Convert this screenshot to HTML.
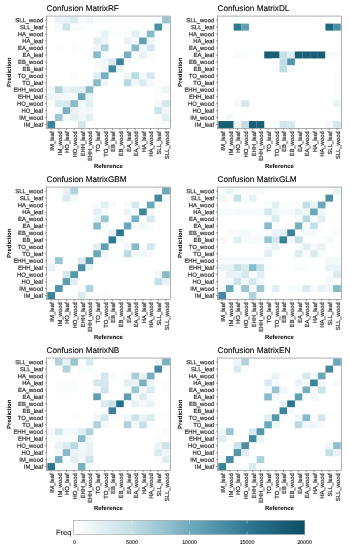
<!DOCTYPE html>
<html lang="en"><head><meta charset="utf-8"><title>Confusion matrices</title>
<style>
html,body{margin:0;padding:0;background:#fff}
svg{display:block}
text{font-family:"Liberation Sans",sans-serif;text-rendering:geometricPrecision}
.t{font-size:8.20px;fill:#000;stroke:#000;stroke-width:0.1px}
.a{font-size:5.90px;fill:#303030;stroke:#303030;stroke-width:0.2px}
.l{font-size:6.00px;font-weight:bold;fill:#000}
.tk{stroke:#333;stroke-width:0.5}
.k{font-size:5.3px;fill:#111;stroke:#111;stroke-width:0.1px}
</style></head><body>
<svg width="350" height="550" viewBox="0 0 350 550">
<rect width="350" height="550" fill="#fff"/>
<g>
<text class="t" x="46.5" y="11.1">Confusion MatrixRF</text>
<rect x="55.00" y="16.65" width="7.70" height="7.01" fill="#e9f3f6"/>
<rect x="62.65" y="16.65" width="7.70" height="7.01" fill="#e9f3f6"/>
<rect x="70.30" y="16.65" width="7.70" height="7.01" fill="#daebef"/>
<rect x="77.95" y="16.65" width="7.70" height="7.01" fill="#f8fbfc"/>
<rect x="85.60" y="16.65" width="7.70" height="7.01" fill="#f0f7f9"/>
<rect x="93.25" y="16.65" width="7.70" height="7.01" fill="#fcfdfe"/>
<rect x="100.90" y="16.65" width="7.70" height="7.01" fill="#fcfdfe"/>
<rect x="154.45" y="16.65" width="7.70" height="7.01" fill="#f8fbfc"/>
<rect x="162.10" y="16.65" width="7.70" height="7.01" fill="#9ac5d1"/>
<rect x="55.00" y="23.61" width="7.70" height="7.01" fill="#f8fbfc"/>
<rect x="62.65" y="23.61" width="7.70" height="7.01" fill="#cbe3e9"/>
<rect x="70.30" y="23.61" width="7.70" height="7.01" fill="#f9fcfc"/>
<rect x="77.95" y="23.61" width="7.70" height="7.01" fill="#f9fcfc"/>
<rect x="154.45" y="23.61" width="7.70" height="7.01" fill="#4c8fa5"/>
<rect x="162.10" y="23.61" width="7.70" height="7.01" fill="#fbfdfd"/>
<rect x="93.25" y="30.57" width="7.70" height="7.01" fill="#fbfdfd"/>
<rect x="100.90" y="30.57" width="7.70" height="7.01" fill="#e9f3f6"/>
<rect x="108.55" y="30.57" width="7.70" height="7.01" fill="#fbfdfd"/>
<rect x="116.20" y="30.57" width="7.70" height="7.01" fill="#fbfdfd"/>
<rect x="123.85" y="30.57" width="7.70" height="7.01" fill="#fbfdfd"/>
<rect x="131.50" y="30.57" width="7.70" height="7.01" fill="#e2eff2"/>
<rect x="139.15" y="30.57" width="7.70" height="7.01" fill="#f8fbfc"/>
<rect x="146.80" y="30.57" width="7.70" height="7.01" fill="#88bbc9"/>
<rect x="93.25" y="37.53" width="7.70" height="7.01" fill="#e2eff2"/>
<rect x="100.90" y="37.53" width="7.70" height="7.01" fill="#edf5f7"/>
<rect x="123.85" y="37.53" width="7.70" height="7.01" fill="#e9f3f6"/>
<rect x="131.50" y="37.53" width="7.70" height="7.01" fill="#f5f9fb"/>
<rect x="139.15" y="37.53" width="7.70" height="7.01" fill="#5f9fb2"/>
<rect x="146.80" y="37.53" width="7.70" height="7.01" fill="#f0f7f9"/>
<rect x="55.00" y="44.49" width="7.70" height="7.01" fill="#fcfdfe"/>
<rect x="70.30" y="44.49" width="7.70" height="7.01" fill="#fbfdfd"/>
<rect x="93.25" y="44.49" width="7.70" height="7.01" fill="#f0f7f9"/>
<rect x="100.90" y="44.49" width="7.70" height="7.01" fill="#afd2dc"/>
<rect x="123.85" y="44.49" width="7.70" height="7.01" fill="#f8fbfc"/>
<rect x="131.50" y="44.49" width="7.70" height="7.01" fill="#88bbc9"/>
<rect x="139.15" y="44.49" width="7.70" height="7.01" fill="#f0f7f9"/>
<rect x="146.80" y="44.49" width="7.70" height="7.01" fill="#d3e7ec"/>
<rect x="93.25" y="51.45" width="7.70" height="7.01" fill="#88bbc9"/>
<rect x="100.90" y="51.45" width="7.70" height="7.01" fill="#f8fbfc"/>
<rect x="123.85" y="51.45" width="7.70" height="7.01" fill="#77b1c1"/>
<rect x="131.50" y="51.45" width="7.70" height="7.01" fill="#f8fbfc"/>
<rect x="139.15" y="51.45" width="7.70" height="7.01" fill="#e9f3f6"/>
<rect x="146.80" y="51.45" width="7.70" height="7.01" fill="#f8fbfc"/>
<rect x="93.25" y="58.41" width="7.70" height="7.01" fill="#fcfdfe"/>
<rect x="100.90" y="58.41" width="7.70" height="7.01" fill="#f0f7f9"/>
<rect x="108.55" y="58.41" width="7.70" height="7.01" fill="#daebef"/>
<rect x="116.20" y="58.41" width="7.70" height="7.01" fill="#3c829a"/>
<rect x="123.85" y="58.41" width="7.70" height="7.01" fill="#fbfdfd"/>
<rect x="131.50" y="58.41" width="7.70" height="7.01" fill="#fbfdfd"/>
<rect x="93.25" y="65.37" width="7.70" height="7.01" fill="#fbfdfd"/>
<rect x="100.90" y="65.37" width="7.70" height="7.01" fill="#f5f9fb"/>
<rect x="108.55" y="65.37" width="7.70" height="7.01" fill="#44889f"/>
<rect x="116.20" y="65.37" width="7.70" height="7.01" fill="#e9f3f6"/>
<rect x="70.30" y="72.33" width="7.70" height="7.01" fill="#fbfdfd"/>
<rect x="93.25" y="72.33" width="7.70" height="7.01" fill="#e2eff2"/>
<rect x="100.90" y="72.33" width="7.70" height="7.01" fill="#77b1c1"/>
<rect x="123.85" y="72.33" width="7.70" height="7.01" fill="#edf5f7"/>
<rect x="131.50" y="72.33" width="7.70" height="7.01" fill="#bad9e1"/>
<rect x="139.15" y="72.33" width="7.70" height="7.01" fill="#f3f9fa"/>
<rect x="146.80" y="72.33" width="7.70" height="7.01" fill="#d3e7ec"/>
<rect x="93.25" y="79.29" width="7.70" height="7.01" fill="#88bbc9"/>
<rect x="100.90" y="79.29" width="7.70" height="7.01" fill="#f0f7f9"/>
<rect x="123.85" y="79.29" width="7.70" height="7.01" fill="#bad9e1"/>
<rect x="131.50" y="79.29" width="7.70" height="7.01" fill="#f0f7f9"/>
<rect x="139.15" y="79.29" width="7.70" height="7.01" fill="#daebef"/>
<rect x="146.80" y="79.29" width="7.70" height="7.01" fill="#f5f9fb"/>
<rect x="47.35" y="86.25" width="7.70" height="7.01" fill="#f5f9fb"/>
<rect x="55.00" y="86.25" width="7.70" height="7.01" fill="#afd2dc"/>
<rect x="62.65" y="86.25" width="7.70" height="7.01" fill="#e9f3f6"/>
<rect x="70.30" y="86.25" width="7.70" height="7.01" fill="#e2eff2"/>
<rect x="77.95" y="86.25" width="7.70" height="7.01" fill="#e2eff2"/>
<rect x="85.60" y="86.25" width="7.70" height="7.01" fill="#88bbc9"/>
<rect x="154.45" y="86.25" width="7.70" height="7.01" fill="#fbfdfd"/>
<rect x="162.10" y="86.25" width="7.70" height="7.01" fill="#edf5f7"/>
<rect x="47.35" y="93.21" width="7.70" height="7.01" fill="#edf5f7"/>
<rect x="55.00" y="93.21" width="7.70" height="7.01" fill="#f0f7f9"/>
<rect x="62.65" y="93.21" width="7.70" height="7.01" fill="#f5f9fb"/>
<rect x="70.30" y="93.21" width="7.70" height="7.01" fill="#f8fbfc"/>
<rect x="77.95" y="93.21" width="7.70" height="7.01" fill="#69a8b9"/>
<rect x="85.60" y="93.21" width="7.70" height="7.01" fill="#e9f3f6"/>
<rect x="154.45" y="93.21" width="7.70" height="7.01" fill="#fcfdfe"/>
<rect x="162.10" y="93.21" width="7.70" height="7.01" fill="#fcfdfe"/>
<rect x="47.35" y="100.17" width="7.70" height="7.01" fill="#fbfdfd"/>
<rect x="55.00" y="100.17" width="7.70" height="7.01" fill="#daebef"/>
<rect x="62.65" y="100.17" width="7.70" height="7.01" fill="#daebef"/>
<rect x="70.30" y="100.17" width="7.70" height="7.01" fill="#88bbc9"/>
<rect x="77.95" y="100.17" width="7.70" height="7.01" fill="#f8fbfc"/>
<rect x="85.60" y="100.17" width="7.70" height="7.01" fill="#e2eff2"/>
<rect x="154.45" y="100.17" width="7.70" height="7.01" fill="#f5f9fb"/>
<rect x="162.10" y="100.17" width="7.70" height="7.01" fill="#d3e7ec"/>
<rect x="55.00" y="107.13" width="7.70" height="7.01" fill="#f8fbfc"/>
<rect x="62.65" y="107.13" width="7.70" height="7.01" fill="#77b1c1"/>
<rect x="70.30" y="107.13" width="7.70" height="7.01" fill="#e9f3f6"/>
<rect x="77.95" y="107.13" width="7.70" height="7.01" fill="#f5f9fb"/>
<rect x="85.60" y="107.13" width="7.70" height="7.01" fill="#f0f7f9"/>
<rect x="154.45" y="107.13" width="7.70" height="7.01" fill="#cbe3e9"/>
<rect x="162.10" y="107.13" width="7.70" height="7.01" fill="#f0f7f9"/>
<rect x="47.35" y="114.09" width="7.70" height="7.01" fill="#f8fbfc"/>
<rect x="55.00" y="114.09" width="7.70" height="7.01" fill="#9ac5d1"/>
<rect x="62.65" y="114.09" width="7.70" height="7.01" fill="#f5f9fb"/>
<rect x="70.30" y="114.09" width="7.70" height="7.01" fill="#e2eff2"/>
<rect x="77.95" y="114.09" width="7.70" height="7.01" fill="#f0f7f9"/>
<rect x="85.60" y="114.09" width="7.70" height="7.01" fill="#e2eff2"/>
<rect x="154.45" y="114.09" width="7.70" height="7.01" fill="#f8fbfc"/>
<rect x="162.10" y="114.09" width="7.70" height="7.01" fill="#e2eff2"/>
<rect x="47.35" y="121.05" width="7.70" height="7.01" fill="#3c829a"/>
<rect x="77.95" y="121.05" width="7.70" height="7.01" fill="#d3e7ec"/>
<rect x="154.45" y="121.05" width="7.70" height="7.01" fill="#fbfdfd"/>
<rect x="162.10" y="121.05" width="7.70" height="7.01" fill="#fbfdfd"/>
<rect x="46.50" y="16.05" width="123.80" height="112.45" fill="none" stroke="#7a7a7a" stroke-width="0.6"/>
<line class="tk" x1="44.90" x2="46.50" y1="20.13" y2="20.13"/>
<text class="a" text-anchor="end" transform="translate(43.20 22.25) rotate(0.03)">SLL_wood</text>
<line class="tk" x1="44.90" x2="46.50" y1="27.09" y2="27.09"/>
<text class="a" text-anchor="end" transform="translate(43.20 29.21) rotate(0.03)">SLL_leaf</text>
<line class="tk" x1="44.90" x2="46.50" y1="34.05" y2="34.05"/>
<text class="a" text-anchor="end" transform="translate(43.20 36.17) rotate(0.03)">HA_wood</text>
<line class="tk" x1="44.90" x2="46.50" y1="41.01" y2="41.01"/>
<text class="a" text-anchor="end" transform="translate(43.20 43.13) rotate(0.03)">HA_leaf</text>
<line class="tk" x1="44.90" x2="46.50" y1="47.97" y2="47.97"/>
<text class="a" text-anchor="end" transform="translate(43.20 50.09) rotate(0.03)">EA_wood</text>
<line class="tk" x1="44.90" x2="46.50" y1="54.93" y2="54.93"/>
<text class="a" text-anchor="end" transform="translate(43.20 57.05) rotate(0.03)">EA_leaf</text>
<line class="tk" x1="44.90" x2="46.50" y1="61.89" y2="61.89"/>
<text class="a" text-anchor="end" transform="translate(43.20 64.01) rotate(0.03)">EB_wood</text>
<line class="tk" x1="44.90" x2="46.50" y1="68.85" y2="68.85"/>
<text class="a" text-anchor="end" transform="translate(43.20 70.97) rotate(0.03)">EB_leaf</text>
<line class="tk" x1="44.90" x2="46.50" y1="75.81" y2="75.81"/>
<text class="a" text-anchor="end" transform="translate(43.20 77.93) rotate(0.03)">TO_wood</text>
<line class="tk" x1="44.90" x2="46.50" y1="82.77" y2="82.77"/>
<text class="a" text-anchor="end" transform="translate(43.20 84.89) rotate(0.03)">TO_leaf</text>
<line class="tk" x1="44.90" x2="46.50" y1="89.73" y2="89.73"/>
<text class="a" text-anchor="end" transform="translate(43.20 91.85) rotate(0.03)">EHH_wood</text>
<line class="tk" x1="44.90" x2="46.50" y1="96.69" y2="96.69"/>
<text class="a" text-anchor="end" transform="translate(43.20 98.81) rotate(0.03)">EHH_leaf</text>
<line class="tk" x1="44.90" x2="46.50" y1="103.65" y2="103.65"/>
<text class="a" text-anchor="end" transform="translate(43.20 105.77) rotate(0.03)">HO_wood</text>
<line class="tk" x1="44.90" x2="46.50" y1="110.61" y2="110.61"/>
<text class="a" text-anchor="end" transform="translate(43.20 112.73) rotate(0.03)">HO_leaf</text>
<line class="tk" x1="44.90" x2="46.50" y1="117.57" y2="117.57"/>
<text class="a" text-anchor="end" transform="translate(43.20 119.69) rotate(0.03)">IM_wood</text>
<line class="tk" x1="44.90" x2="46.50" y1="124.53" y2="124.53"/>
<text class="a" text-anchor="end" transform="translate(43.20 126.65) rotate(0.03)">IM_leaf</text>
<line class="tk" x1="51.18" x2="51.18" y1="128.50" y2="130.10"/>
<text class="a" text-anchor="end" transform="translate(54.00 131.30) rotate(-90)">IM_leaf</text>
<line class="tk" x1="58.83" x2="58.83" y1="128.50" y2="130.10"/>
<text class="a" text-anchor="end" transform="translate(61.65 131.30) rotate(-90)">IM_wood</text>
<line class="tk" x1="66.47" x2="66.47" y1="128.50" y2="130.10"/>
<text class="a" text-anchor="end" transform="translate(69.30 131.30) rotate(-90)">HO_leaf</text>
<line class="tk" x1="74.12" x2="74.12" y1="128.50" y2="130.10"/>
<text class="a" text-anchor="end" transform="translate(76.95 131.30) rotate(-90)">HO_wood</text>
<line class="tk" x1="81.78" x2="81.78" y1="128.50" y2="130.10"/>
<text class="a" text-anchor="end" transform="translate(84.60 131.30) rotate(-90)">EHH_leaf</text>
<line class="tk" x1="89.43" x2="89.43" y1="128.50" y2="130.10"/>
<text class="a" text-anchor="end" transform="translate(92.25 131.30) rotate(-90)">EHH_wood</text>
<line class="tk" x1="97.08" x2="97.08" y1="128.50" y2="130.10"/>
<text class="a" text-anchor="end" transform="translate(99.90 131.30) rotate(-90)">TO_leaf</text>
<line class="tk" x1="104.72" x2="104.72" y1="128.50" y2="130.10"/>
<text class="a" text-anchor="end" transform="translate(107.55 131.30) rotate(-90)">TO_wood</text>
<line class="tk" x1="112.38" x2="112.38" y1="128.50" y2="130.10"/>
<text class="a" text-anchor="end" transform="translate(115.20 131.30) rotate(-90)">EB_leaf</text>
<line class="tk" x1="120.03" x2="120.03" y1="128.50" y2="130.10"/>
<text class="a" text-anchor="end" transform="translate(122.85 131.30) rotate(-90)">EB_wood</text>
<line class="tk" x1="127.68" x2="127.68" y1="128.50" y2="130.10"/>
<text class="a" text-anchor="end" transform="translate(130.50 131.30) rotate(-90)">EA_leaf</text>
<line class="tk" x1="135.33" x2="135.33" y1="128.50" y2="130.10"/>
<text class="a" text-anchor="end" transform="translate(138.15 131.30) rotate(-90)">EA_wood</text>
<line class="tk" x1="142.97" x2="142.97" y1="128.50" y2="130.10"/>
<text class="a" text-anchor="end" transform="translate(145.80 131.30) rotate(-90)">HA_leaf</text>
<line class="tk" x1="150.62" x2="150.62" y1="128.50" y2="130.10"/>
<text class="a" text-anchor="end" transform="translate(153.45 131.30) rotate(-90)">HA_wood</text>
<line class="tk" x1="158.28" x2="158.28" y1="128.50" y2="130.10"/>
<text class="a" text-anchor="end" transform="translate(161.10 131.30) rotate(-90)">SLL_leaf</text>
<line class="tk" x1="165.93" x2="165.93" y1="128.50" y2="130.10"/>
<text class="a" text-anchor="end" transform="translate(168.75 131.30) rotate(-90)">SLL_wood</text>
<text class="l" text-anchor="middle" transform="translate(10.70 72.28) rotate(-90)">Prediction</text>
<text class="l" text-anchor="middle" x="108.40" y="168.00">Reference</text>
</g>
<g>
<text class="t" x="217.5" y="11.1">Confusion MatrixDL</text>
<rect x="233.65" y="23.61" width="7.70" height="7.01" fill="#2d7891"/>
<rect x="241.30" y="23.61" width="7.70" height="7.01" fill="#5f9fb2"/>
<rect x="325.45" y="23.61" width="7.70" height="7.01" fill="#21677f"/>
<rect x="333.10" y="23.61" width="7.70" height="7.01" fill="#4c8fa5"/>
<rect x="233.65" y="51.45" width="7.70" height="7.01" fill="#f9fcfc"/>
<rect x="241.30" y="51.45" width="7.70" height="7.01" fill="#f9fcfc"/>
<rect x="264.25" y="51.45" width="7.70" height="7.01" fill="#1a5e76"/>
<rect x="271.90" y="51.45" width="7.70" height="7.01" fill="#1a5e76"/>
<rect x="279.55" y="51.45" width="7.70" height="7.01" fill="#c7e1e7"/>
<rect x="287.20" y="51.45" width="7.70" height="7.01" fill="#dfedf1"/>
<rect x="294.85" y="51.45" width="7.70" height="7.01" fill="#1a5e76"/>
<rect x="302.50" y="51.45" width="7.70" height="7.01" fill="#1a5e76"/>
<rect x="310.15" y="51.45" width="7.70" height="7.01" fill="#1a5e76"/>
<rect x="317.80" y="51.45" width="7.70" height="7.01" fill="#1a5e76"/>
<rect x="325.45" y="51.45" width="7.70" height="7.01" fill="#f8fbfc"/>
<rect x="333.10" y="51.45" width="7.70" height="7.01" fill="#f8fbfc"/>
<rect x="271.90" y="58.41" width="7.70" height="7.01" fill="#fbfdfd"/>
<rect x="279.55" y="58.41" width="7.70" height="7.01" fill="#c0dce4"/>
<rect x="287.20" y="58.41" width="7.70" height="7.01" fill="#5596ab"/>
<rect x="271.90" y="65.37" width="7.70" height="7.01" fill="#f8fbfc"/>
<rect x="279.55" y="65.37" width="7.70" height="7.01" fill="#c0dce4"/>
<rect x="287.20" y="65.37" width="7.70" height="7.01" fill="#f8fbfc"/>
<rect x="333.10" y="72.33" width="7.70" height="7.01" fill="#fcfdfe"/>
<rect x="333.10" y="79.29" width="7.70" height="7.01" fill="#fcfdfe"/>
<rect x="333.10" y="86.25" width="7.70" height="7.01" fill="#fcfdfe"/>
<rect x="333.10" y="93.21" width="7.70" height="7.01" fill="#fcfdfe"/>
<rect x="233.65" y="100.17" width="7.70" height="7.01" fill="#f5f9fb"/>
<rect x="241.30" y="100.17" width="7.70" height="7.01" fill="#d3e7ec"/>
<rect x="333.10" y="100.17" width="7.70" height="7.01" fill="#eaf4f6"/>
<rect x="241.30" y="107.13" width="7.70" height="7.01" fill="#fbfdfd"/>
<rect x="333.10" y="107.13" width="7.70" height="7.01" fill="#fbfdfd"/>
<rect x="226.00" y="114.09" width="7.70" height="7.01" fill="#f5f9fb"/>
<rect x="218.35" y="121.05" width="7.70" height="7.01" fill="#1a5e76"/>
<rect x="226.00" y="121.05" width="7.70" height="7.01" fill="#1a5e76"/>
<rect x="233.65" y="121.05" width="7.70" height="7.01" fill="#edf5f7"/>
<rect x="241.30" y="121.05" width="7.70" height="7.01" fill="#c4dfe6"/>
<rect x="248.95" y="121.05" width="7.70" height="7.01" fill="#1a5e76"/>
<rect x="256.60" y="121.05" width="7.70" height="7.01" fill="#1a5e76"/>
<rect x="271.90" y="121.05" width="7.70" height="7.01" fill="#f9fcfc"/>
<rect x="279.55" y="121.05" width="7.70" height="7.01" fill="#d3e7ec"/>
<rect x="287.20" y="121.05" width="7.70" height="7.01" fill="#daebef"/>
<rect x="325.45" y="121.05" width="7.70" height="7.01" fill="#f5f9fb"/>
<rect x="333.10" y="121.05" width="7.70" height="7.01" fill="#d6e9ed"/>
<rect x="217.50" y="16.05" width="123.80" height="112.45" fill="none" stroke="#7a7a7a" stroke-width="0.6"/>
<line class="tk" x1="215.90" x2="217.50" y1="20.13" y2="20.13"/>
<text class="a" text-anchor="end" transform="translate(214.20 22.25) rotate(0.03)">SLL_wood</text>
<line class="tk" x1="215.90" x2="217.50" y1="27.09" y2="27.09"/>
<text class="a" text-anchor="end" transform="translate(214.20 29.21) rotate(0.03)">SLL_leaf</text>
<line class="tk" x1="215.90" x2="217.50" y1="34.05" y2="34.05"/>
<text class="a" text-anchor="end" transform="translate(214.20 36.17) rotate(0.03)">HA_wood</text>
<line class="tk" x1="215.90" x2="217.50" y1="41.01" y2="41.01"/>
<text class="a" text-anchor="end" transform="translate(214.20 43.13) rotate(0.03)">HA_leaf</text>
<line class="tk" x1="215.90" x2="217.50" y1="47.97" y2="47.97"/>
<text class="a" text-anchor="end" transform="translate(214.20 50.09) rotate(0.03)">EA_wood</text>
<line class="tk" x1="215.90" x2="217.50" y1="54.93" y2="54.93"/>
<text class="a" text-anchor="end" transform="translate(214.20 57.05) rotate(0.03)">EA_leaf</text>
<line class="tk" x1="215.90" x2="217.50" y1="61.89" y2="61.89"/>
<text class="a" text-anchor="end" transform="translate(214.20 64.01) rotate(0.03)">EB_wood</text>
<line class="tk" x1="215.90" x2="217.50" y1="68.85" y2="68.85"/>
<text class="a" text-anchor="end" transform="translate(214.20 70.97) rotate(0.03)">EB_leaf</text>
<line class="tk" x1="215.90" x2="217.50" y1="75.81" y2="75.81"/>
<text class="a" text-anchor="end" transform="translate(214.20 77.93) rotate(0.03)">TO_wood</text>
<line class="tk" x1="215.90" x2="217.50" y1="82.77" y2="82.77"/>
<text class="a" text-anchor="end" transform="translate(214.20 84.89) rotate(0.03)">TO_leaf</text>
<line class="tk" x1="215.90" x2="217.50" y1="89.73" y2="89.73"/>
<text class="a" text-anchor="end" transform="translate(214.20 91.85) rotate(0.03)">EHH_wood</text>
<line class="tk" x1="215.90" x2="217.50" y1="96.69" y2="96.69"/>
<text class="a" text-anchor="end" transform="translate(214.20 98.81) rotate(0.03)">EHH_leaf</text>
<line class="tk" x1="215.90" x2="217.50" y1="103.65" y2="103.65"/>
<text class="a" text-anchor="end" transform="translate(214.20 105.77) rotate(0.03)">HO_wood</text>
<line class="tk" x1="215.90" x2="217.50" y1="110.61" y2="110.61"/>
<text class="a" text-anchor="end" transform="translate(214.20 112.73) rotate(0.03)">HO_leaf</text>
<line class="tk" x1="215.90" x2="217.50" y1="117.57" y2="117.57"/>
<text class="a" text-anchor="end" transform="translate(214.20 119.69) rotate(0.03)">IM_wood</text>
<line class="tk" x1="215.90" x2="217.50" y1="124.53" y2="124.53"/>
<text class="a" text-anchor="end" transform="translate(214.20 126.65) rotate(0.03)">IM_leaf</text>
<line class="tk" x1="222.17" x2="222.17" y1="128.50" y2="130.10"/>
<text class="a" text-anchor="end" transform="translate(225.00 131.30) rotate(-90)">IM_leaf</text>
<line class="tk" x1="229.82" x2="229.82" y1="128.50" y2="130.10"/>
<text class="a" text-anchor="end" transform="translate(232.65 131.30) rotate(-90)">IM_wood</text>
<line class="tk" x1="237.47" x2="237.47" y1="128.50" y2="130.10"/>
<text class="a" text-anchor="end" transform="translate(240.30 131.30) rotate(-90)">HO_leaf</text>
<line class="tk" x1="245.12" x2="245.12" y1="128.50" y2="130.10"/>
<text class="a" text-anchor="end" transform="translate(247.95 131.30) rotate(-90)">HO_wood</text>
<line class="tk" x1="252.78" x2="252.78" y1="128.50" y2="130.10"/>
<text class="a" text-anchor="end" transform="translate(255.60 131.30) rotate(-90)">EHH_leaf</text>
<line class="tk" x1="260.43" x2="260.43" y1="128.50" y2="130.10"/>
<text class="a" text-anchor="end" transform="translate(263.25 131.30) rotate(-90)">EHH_wood</text>
<line class="tk" x1="268.07" x2="268.07" y1="128.50" y2="130.10"/>
<text class="a" text-anchor="end" transform="translate(270.90 131.30) rotate(-90)">TO_leaf</text>
<line class="tk" x1="275.73" x2="275.73" y1="128.50" y2="130.10"/>
<text class="a" text-anchor="end" transform="translate(278.55 131.30) rotate(-90)">TO_wood</text>
<line class="tk" x1="283.38" x2="283.38" y1="128.50" y2="130.10"/>
<text class="a" text-anchor="end" transform="translate(286.20 131.30) rotate(-90)">EB_leaf</text>
<line class="tk" x1="291.02" x2="291.02" y1="128.50" y2="130.10"/>
<text class="a" text-anchor="end" transform="translate(293.85 131.30) rotate(-90)">EB_wood</text>
<line class="tk" x1="298.68" x2="298.68" y1="128.50" y2="130.10"/>
<text class="a" text-anchor="end" transform="translate(301.50 131.30) rotate(-90)">EA_leaf</text>
<line class="tk" x1="306.32" x2="306.32" y1="128.50" y2="130.10"/>
<text class="a" text-anchor="end" transform="translate(309.15 131.30) rotate(-90)">EA_wood</text>
<line class="tk" x1="313.98" x2="313.98" y1="128.50" y2="130.10"/>
<text class="a" text-anchor="end" transform="translate(316.80 131.30) rotate(-90)">HA_leaf</text>
<line class="tk" x1="321.62" x2="321.62" y1="128.50" y2="130.10"/>
<text class="a" text-anchor="end" transform="translate(324.45 131.30) rotate(-90)">HA_wood</text>
<line class="tk" x1="329.27" x2="329.27" y1="128.50" y2="130.10"/>
<text class="a" text-anchor="end" transform="translate(332.10 131.30) rotate(-90)">SLL_leaf</text>
<line class="tk" x1="336.93" x2="336.93" y1="128.50" y2="130.10"/>
<text class="a" text-anchor="end" transform="translate(339.75 131.30) rotate(-90)">SLL_wood</text>
<text class="l" text-anchor="middle" transform="translate(181.70 72.28) rotate(-90)">Prediction</text>
<text class="l" text-anchor="middle" x="279.40" y="168.00">Reference</text>
</g>
<g>
<text class="t" x="46.5" y="182.1">Confusion MatrixGBM</text>
<rect x="55.00" y="187.65" width="7.70" height="7.01" fill="#fcfdfe"/>
<rect x="62.65" y="187.65" width="7.70" height="7.01" fill="#e9f3f6"/>
<rect x="70.30" y="187.65" width="7.70" height="7.01" fill="#afd2dc"/>
<rect x="154.45" y="187.65" width="7.70" height="7.01" fill="#f8fbfc"/>
<rect x="162.10" y="187.65" width="7.70" height="7.01" fill="#69a8b9"/>
<rect x="55.00" y="194.61" width="7.70" height="7.01" fill="#fbfdfd"/>
<rect x="62.65" y="194.61" width="7.70" height="7.01" fill="#daebef"/>
<rect x="70.30" y="194.61" width="7.70" height="7.01" fill="#f5f9fb"/>
<rect x="154.45" y="194.61" width="7.70" height="7.01" fill="#44889f"/>
<rect x="162.10" y="194.61" width="7.70" height="7.01" fill="#fbfdfd"/>
<rect x="93.25" y="201.57" width="7.70" height="7.01" fill="#f8fbfc"/>
<rect x="100.90" y="201.57" width="7.70" height="7.01" fill="#e2eff2"/>
<rect x="108.55" y="201.57" width="7.70" height="7.01" fill="#f8fbfc"/>
<rect x="123.85" y="201.57" width="7.70" height="7.01" fill="#f8fbfc"/>
<rect x="131.50" y="201.57" width="7.70" height="7.01" fill="#d3e7ec"/>
<rect x="139.15" y="201.57" width="7.70" height="7.01" fill="#f9fcfc"/>
<rect x="146.80" y="201.57" width="7.70" height="7.01" fill="#69a8b9"/>
<rect x="93.25" y="208.53" width="7.70" height="7.01" fill="#e2eff2"/>
<rect x="100.90" y="208.53" width="7.70" height="7.01" fill="#f5f9fb"/>
<rect x="123.85" y="208.53" width="7.70" height="7.01" fill="#e9f3f6"/>
<rect x="131.50" y="208.53" width="7.70" height="7.01" fill="#f8fbfc"/>
<rect x="139.15" y="208.53" width="7.70" height="7.01" fill="#3c829a"/>
<rect x="146.80" y="208.53" width="7.70" height="7.01" fill="#f5f9fb"/>
<rect x="93.25" y="215.49" width="7.70" height="7.01" fill="#f0f7f9"/>
<rect x="100.90" y="215.49" width="7.70" height="7.01" fill="#9ac5d1"/>
<rect x="123.85" y="215.49" width="7.70" height="7.01" fill="#f8fbfc"/>
<rect x="131.50" y="215.49" width="7.70" height="7.01" fill="#77b1c1"/>
<rect x="139.15" y="215.49" width="7.70" height="7.01" fill="#f8fbfc"/>
<rect x="146.80" y="215.49" width="7.70" height="7.01" fill="#d3e7ec"/>
<rect x="93.25" y="222.45" width="7.70" height="7.01" fill="#88bbc9"/>
<rect x="100.90" y="222.45" width="7.70" height="7.01" fill="#f3f9fa"/>
<rect x="123.85" y="222.45" width="7.70" height="7.01" fill="#69a8b9"/>
<rect x="131.50" y="222.45" width="7.70" height="7.01" fill="#f8fbfc"/>
<rect x="139.15" y="222.45" width="7.70" height="7.01" fill="#f3f9fa"/>
<rect x="146.80" y="222.45" width="7.70" height="7.01" fill="#fbfdfd"/>
<rect x="100.90" y="229.41" width="7.70" height="7.01" fill="#fbfdfd"/>
<rect x="108.55" y="229.41" width="7.70" height="7.01" fill="#e9f3f6"/>
<rect x="116.20" y="229.41" width="7.70" height="7.01" fill="#2d7891"/>
<rect x="100.90" y="236.37" width="7.70" height="7.01" fill="#fcfdfe"/>
<rect x="108.55" y="236.37" width="7.70" height="7.01" fill="#2d7891"/>
<rect x="116.20" y="236.37" width="7.70" height="7.01" fill="#f0f7f9"/>
<rect x="93.25" y="243.33" width="7.70" height="7.01" fill="#e2eff2"/>
<rect x="100.90" y="243.33" width="7.70" height="7.01" fill="#5f9fb2"/>
<rect x="123.85" y="243.33" width="7.70" height="7.01" fill="#f0f7f9"/>
<rect x="131.50" y="243.33" width="7.70" height="7.01" fill="#88bbc9"/>
<rect x="139.15" y="243.33" width="7.70" height="7.01" fill="#fbfdfd"/>
<rect x="146.80" y="243.33" width="7.70" height="7.01" fill="#d3e7ec"/>
<rect x="93.25" y="250.29" width="7.70" height="7.01" fill="#69a8b9"/>
<rect x="100.90" y="250.29" width="7.70" height="7.01" fill="#f0f7f9"/>
<rect x="123.85" y="250.29" width="7.70" height="7.01" fill="#bad9e1"/>
<rect x="131.50" y="250.29" width="7.70" height="7.01" fill="#f5f9fb"/>
<rect x="139.15" y="250.29" width="7.70" height="7.01" fill="#f0f7f9"/>
<rect x="146.80" y="250.29" width="7.70" height="7.01" fill="#f8fbfc"/>
<rect x="47.35" y="257.25" width="7.70" height="7.01" fill="#f8fbfc"/>
<rect x="55.00" y="257.25" width="7.70" height="7.01" fill="#9ac5d1"/>
<rect x="77.95" y="257.25" width="7.70" height="7.01" fill="#daebef"/>
<rect x="85.60" y="257.25" width="7.70" height="7.01" fill="#5596ab"/>
<rect x="47.35" y="264.21" width="7.70" height="7.01" fill="#e9f3f6"/>
<rect x="55.00" y="264.21" width="7.70" height="7.01" fill="#fbfdfd"/>
<rect x="77.95" y="264.21" width="7.70" height="7.01" fill="#4c8fa5"/>
<rect x="85.60" y="264.21" width="7.70" height="7.01" fill="#e9f3f6"/>
<rect x="62.65" y="271.17" width="7.70" height="7.01" fill="#d3e7ec"/>
<rect x="70.30" y="271.17" width="7.70" height="7.01" fill="#5596ab"/>
<rect x="154.45" y="271.17" width="7.70" height="7.01" fill="#f0f7f9"/>
<rect x="162.10" y="271.17" width="7.70" height="7.01" fill="#88bbc9"/>
<rect x="62.65" y="278.13" width="7.70" height="7.01" fill="#5f9fb2"/>
<rect x="70.30" y="278.13" width="7.70" height="7.01" fill="#e2eff2"/>
<rect x="154.45" y="278.13" width="7.70" height="7.01" fill="#c4dfe6"/>
<rect x="162.10" y="278.13" width="7.70" height="7.01" fill="#e9f3f6"/>
<rect x="55.00" y="285.09" width="7.70" height="7.01" fill="#5596ab"/>
<rect x="77.95" y="285.09" width="7.70" height="7.01" fill="#fbfdfd"/>
<rect x="85.60" y="285.09" width="7.70" height="7.01" fill="#afd2dc"/>
<rect x="47.35" y="292.05" width="7.70" height="7.01" fill="#3c829a"/>
<rect x="55.00" y="292.05" width="7.70" height="7.01" fill="#fcfdfe"/>
<rect x="62.65" y="292.05" width="7.70" height="7.01" fill="#fcfdfe"/>
<rect x="70.30" y="292.05" width="7.70" height="7.01" fill="#fcfdfe"/>
<rect x="77.95" y="292.05" width="7.70" height="7.01" fill="#daebef"/>
<rect x="85.60" y="292.05" width="7.70" height="7.01" fill="#fcfdfe"/>
<rect x="93.25" y="292.05" width="7.70" height="7.01" fill="#fcfdfe"/>
<rect x="100.90" y="292.05" width="7.70" height="7.01" fill="#fcfdfe"/>
<rect x="46.50" y="187.05" width="123.80" height="112.45" fill="none" stroke="#7a7a7a" stroke-width="0.6"/>
<line class="tk" x1="44.90" x2="46.50" y1="191.13" y2="191.13"/>
<text class="a" text-anchor="end" transform="translate(43.20 193.25) rotate(0.03)">SLL_wood</text>
<line class="tk" x1="44.90" x2="46.50" y1="198.09" y2="198.09"/>
<text class="a" text-anchor="end" transform="translate(43.20 200.21) rotate(0.03)">SLL_leaf</text>
<line class="tk" x1="44.90" x2="46.50" y1="205.05" y2="205.05"/>
<text class="a" text-anchor="end" transform="translate(43.20 207.17) rotate(0.03)">HA_wood</text>
<line class="tk" x1="44.90" x2="46.50" y1="212.01" y2="212.01"/>
<text class="a" text-anchor="end" transform="translate(43.20 214.13) rotate(0.03)">HA_leaf</text>
<line class="tk" x1="44.90" x2="46.50" y1="218.97" y2="218.97"/>
<text class="a" text-anchor="end" transform="translate(43.20 221.09) rotate(0.03)">EA_wood</text>
<line class="tk" x1="44.90" x2="46.50" y1="225.93" y2="225.93"/>
<text class="a" text-anchor="end" transform="translate(43.20 228.05) rotate(0.03)">EA_leaf</text>
<line class="tk" x1="44.90" x2="46.50" y1="232.89" y2="232.89"/>
<text class="a" text-anchor="end" transform="translate(43.20 235.01) rotate(0.03)">EB_wood</text>
<line class="tk" x1="44.90" x2="46.50" y1="239.85" y2="239.85"/>
<text class="a" text-anchor="end" transform="translate(43.20 241.97) rotate(0.03)">EB_leaf</text>
<line class="tk" x1="44.90" x2="46.50" y1="246.81" y2="246.81"/>
<text class="a" text-anchor="end" transform="translate(43.20 248.93) rotate(0.03)">TO_wood</text>
<line class="tk" x1="44.90" x2="46.50" y1="253.77" y2="253.77"/>
<text class="a" text-anchor="end" transform="translate(43.20 255.89) rotate(0.03)">TO_leaf</text>
<line class="tk" x1="44.90" x2="46.50" y1="260.73" y2="260.73"/>
<text class="a" text-anchor="end" transform="translate(43.20 262.85) rotate(0.03)">EHH_wood</text>
<line class="tk" x1="44.90" x2="46.50" y1="267.69" y2="267.69"/>
<text class="a" text-anchor="end" transform="translate(43.20 269.81) rotate(0.03)">EHH_leaf</text>
<line class="tk" x1="44.90" x2="46.50" y1="274.65" y2="274.65"/>
<text class="a" text-anchor="end" transform="translate(43.20 276.77) rotate(0.03)">HO_wood</text>
<line class="tk" x1="44.90" x2="46.50" y1="281.61" y2="281.61"/>
<text class="a" text-anchor="end" transform="translate(43.20 283.73) rotate(0.03)">HO_leaf</text>
<line class="tk" x1="44.90" x2="46.50" y1="288.57" y2="288.57"/>
<text class="a" text-anchor="end" transform="translate(43.20 290.69) rotate(0.03)">IM_wood</text>
<line class="tk" x1="44.90" x2="46.50" y1="295.53" y2="295.53"/>
<text class="a" text-anchor="end" transform="translate(43.20 297.65) rotate(0.03)">IM_leaf</text>
<line class="tk" x1="51.18" x2="51.18" y1="299.50" y2="301.10"/>
<text class="a" text-anchor="end" transform="translate(54.00 302.30) rotate(-90)">IM_leaf</text>
<line class="tk" x1="58.83" x2="58.83" y1="299.50" y2="301.10"/>
<text class="a" text-anchor="end" transform="translate(61.65 302.30) rotate(-90)">IM_wood</text>
<line class="tk" x1="66.47" x2="66.47" y1="299.50" y2="301.10"/>
<text class="a" text-anchor="end" transform="translate(69.30 302.30) rotate(-90)">HO_leaf</text>
<line class="tk" x1="74.12" x2="74.12" y1="299.50" y2="301.10"/>
<text class="a" text-anchor="end" transform="translate(76.95 302.30) rotate(-90)">HO_wood</text>
<line class="tk" x1="81.78" x2="81.78" y1="299.50" y2="301.10"/>
<text class="a" text-anchor="end" transform="translate(84.60 302.30) rotate(-90)">EHH_leaf</text>
<line class="tk" x1="89.43" x2="89.43" y1="299.50" y2="301.10"/>
<text class="a" text-anchor="end" transform="translate(92.25 302.30) rotate(-90)">EHH_wood</text>
<line class="tk" x1="97.08" x2="97.08" y1="299.50" y2="301.10"/>
<text class="a" text-anchor="end" transform="translate(99.90 302.30) rotate(-90)">TO_leaf</text>
<line class="tk" x1="104.72" x2="104.72" y1="299.50" y2="301.10"/>
<text class="a" text-anchor="end" transform="translate(107.55 302.30) rotate(-90)">TO_wood</text>
<line class="tk" x1="112.38" x2="112.38" y1="299.50" y2="301.10"/>
<text class="a" text-anchor="end" transform="translate(115.20 302.30) rotate(-90)">EB_leaf</text>
<line class="tk" x1="120.03" x2="120.03" y1="299.50" y2="301.10"/>
<text class="a" text-anchor="end" transform="translate(122.85 302.30) rotate(-90)">EB_wood</text>
<line class="tk" x1="127.68" x2="127.68" y1="299.50" y2="301.10"/>
<text class="a" text-anchor="end" transform="translate(130.50 302.30) rotate(-90)">EA_leaf</text>
<line class="tk" x1="135.33" x2="135.33" y1="299.50" y2="301.10"/>
<text class="a" text-anchor="end" transform="translate(138.15 302.30) rotate(-90)">EA_wood</text>
<line class="tk" x1="142.97" x2="142.97" y1="299.50" y2="301.10"/>
<text class="a" text-anchor="end" transform="translate(145.80 302.30) rotate(-90)">HA_leaf</text>
<line class="tk" x1="150.62" x2="150.62" y1="299.50" y2="301.10"/>
<text class="a" text-anchor="end" transform="translate(153.45 302.30) rotate(-90)">HA_wood</text>
<line class="tk" x1="158.28" x2="158.28" y1="299.50" y2="301.10"/>
<text class="a" text-anchor="end" transform="translate(161.10 302.30) rotate(-90)">SLL_leaf</text>
<line class="tk" x1="165.93" x2="165.93" y1="299.50" y2="301.10"/>
<text class="a" text-anchor="end" transform="translate(168.75 302.30) rotate(-90)">SLL_wood</text>
<text class="l" text-anchor="middle" transform="translate(10.70 243.28) rotate(-90)">Prediction</text>
<text class="l" text-anchor="middle" x="108.40" y="339.00">Reference</text>
</g>
<g>
<text class="t" x="217.5" y="182.1">Confusion MatrixGLM</text>
<rect x="218.35" y="187.65" width="7.70" height="7.01" fill="#fbfdfd"/>
<rect x="226.00" y="187.65" width="7.70" height="7.01" fill="#e9f3f6"/>
<rect x="233.65" y="187.65" width="7.70" height="7.01" fill="#fbfdfd"/>
<rect x="241.30" y="187.65" width="7.70" height="7.01" fill="#fbfdfd"/>
<rect x="248.95" y="187.65" width="7.70" height="7.01" fill="#fbfdfd"/>
<rect x="256.60" y="187.65" width="7.70" height="7.01" fill="#f8fbfc"/>
<rect x="333.10" y="187.65" width="7.70" height="7.01" fill="#e9f3f6"/>
<rect x="218.35" y="194.61" width="7.70" height="7.01" fill="#f0f7f9"/>
<rect x="226.00" y="194.61" width="7.70" height="7.01" fill="#fbfdfd"/>
<rect x="233.65" y="194.61" width="7.70" height="7.01" fill="#c4dfe6"/>
<rect x="241.30" y="194.61" width="7.70" height="7.01" fill="#fbfdfd"/>
<rect x="248.95" y="194.61" width="7.70" height="7.01" fill="#e9f3f6"/>
<rect x="325.45" y="194.61" width="7.70" height="7.01" fill="#4c8fa5"/>
<rect x="333.10" y="194.61" width="7.70" height="7.01" fill="#fcfdfe"/>
<rect x="264.25" y="201.57" width="7.70" height="7.01" fill="#f9fcfc"/>
<rect x="271.90" y="201.57" width="7.70" height="7.01" fill="#e2eff2"/>
<rect x="279.55" y="201.57" width="7.70" height="7.01" fill="#fbfdfd"/>
<rect x="287.20" y="201.57" width="7.70" height="7.01" fill="#fbfdfd"/>
<rect x="294.85" y="201.57" width="7.70" height="7.01" fill="#fbfdfd"/>
<rect x="302.50" y="201.57" width="7.70" height="7.01" fill="#c4dfe6"/>
<rect x="310.15" y="201.57" width="7.70" height="7.01" fill="#e9f3f6"/>
<rect x="317.80" y="201.57" width="7.70" height="7.01" fill="#69a8b9"/>
<rect x="218.35" y="208.53" width="7.70" height="7.01" fill="#f8fbfc"/>
<rect x="226.00" y="208.53" width="7.70" height="7.01" fill="#f8fbfc"/>
<rect x="233.65" y="208.53" width="7.70" height="7.01" fill="#f6fafb"/>
<rect x="241.30" y="208.53" width="7.70" height="7.01" fill="#f6fafb"/>
<rect x="248.95" y="208.53" width="7.70" height="7.01" fill="#f6fafb"/>
<rect x="256.60" y="208.53" width="7.70" height="7.01" fill="#f8fbfc"/>
<rect x="264.25" y="208.53" width="7.70" height="7.01" fill="#d3e7ec"/>
<rect x="271.90" y="208.53" width="7.70" height="7.01" fill="#f0f7f9"/>
<rect x="279.55" y="208.53" width="7.70" height="7.01" fill="#f5f9fb"/>
<rect x="287.20" y="208.53" width="7.70" height="7.01" fill="#f5f9fb"/>
<rect x="294.85" y="208.53" width="7.70" height="7.01" fill="#e9f3f6"/>
<rect x="302.50" y="208.53" width="7.70" height="7.01" fill="#f0f7f9"/>
<rect x="310.15" y="208.53" width="7.70" height="7.01" fill="#69a8b9"/>
<rect x="317.80" y="208.53" width="7.70" height="7.01" fill="#f0f7f9"/>
<rect x="264.25" y="215.49" width="7.70" height="7.01" fill="#f8fbfc"/>
<rect x="271.90" y="215.49" width="7.70" height="7.01" fill="#daebef"/>
<rect x="294.85" y="215.49" width="7.70" height="7.01" fill="#f8fbfc"/>
<rect x="302.50" y="215.49" width="7.70" height="7.01" fill="#bad9e1"/>
<rect x="310.15" y="215.49" width="7.70" height="7.01" fill="#f5f9fb"/>
<rect x="317.80" y="215.49" width="7.70" height="7.01" fill="#e2eff2"/>
<rect x="264.25" y="222.45" width="7.70" height="7.01" fill="#88bbc9"/>
<rect x="271.90" y="222.45" width="7.70" height="7.01" fill="#fbfdfd"/>
<rect x="294.85" y="222.45" width="7.70" height="7.01" fill="#77b1c1"/>
<rect x="302.50" y="222.45" width="7.70" height="7.01" fill="#fbfdfd"/>
<rect x="310.15" y="222.45" width="7.70" height="7.01" fill="#c4dfe6"/>
<rect x="317.80" y="222.45" width="7.70" height="7.01" fill="#fbfdfd"/>
<rect x="226.00" y="229.41" width="7.70" height="7.01" fill="#f9fcfc"/>
<rect x="233.65" y="229.41" width="7.70" height="7.01" fill="#f9fcfc"/>
<rect x="241.30" y="229.41" width="7.70" height="7.01" fill="#f3f9fa"/>
<rect x="248.95" y="229.41" width="7.70" height="7.01" fill="#fbfdfd"/>
<rect x="256.60" y="229.41" width="7.70" height="7.01" fill="#fbfdfd"/>
<rect x="264.25" y="229.41" width="7.70" height="7.01" fill="#f8fbfc"/>
<rect x="271.90" y="229.41" width="7.70" height="7.01" fill="#e9f3f6"/>
<rect x="279.55" y="229.41" width="7.70" height="7.01" fill="#e2eff2"/>
<rect x="287.20" y="229.41" width="7.70" height="7.01" fill="#3c829a"/>
<rect x="302.50" y="229.41" width="7.70" height="7.01" fill="#f5f9fb"/>
<rect x="310.15" y="229.41" width="7.70" height="7.01" fill="#f8fbfc"/>
<rect x="333.10" y="229.41" width="7.70" height="7.01" fill="#f8fbfc"/>
<rect x="218.35" y="236.37" width="7.70" height="7.01" fill="#f5f9fb"/>
<rect x="226.00" y="236.37" width="7.70" height="7.01" fill="#fbfdfd"/>
<rect x="233.65" y="236.37" width="7.70" height="7.01" fill="#e2eff2"/>
<rect x="241.30" y="236.37" width="7.70" height="7.01" fill="#f8fbfc"/>
<rect x="248.95" y="236.37" width="7.70" height="7.01" fill="#f8fbfc"/>
<rect x="256.60" y="236.37" width="7.70" height="7.01" fill="#f8fbfc"/>
<rect x="264.25" y="236.37" width="7.70" height="7.01" fill="#9ac5d1"/>
<rect x="271.90" y="236.37" width="7.70" height="7.01" fill="#d3e7ec"/>
<rect x="279.55" y="236.37" width="7.70" height="7.01" fill="#3c829a"/>
<rect x="287.20" y="236.37" width="7.70" height="7.01" fill="#f5f9fb"/>
<rect x="294.85" y="236.37" width="7.70" height="7.01" fill="#c4dfe6"/>
<rect x="317.80" y="236.37" width="7.70" height="7.01" fill="#fbfdfd"/>
<rect x="325.45" y="236.37" width="7.70" height="7.01" fill="#f5f9fb"/>
<rect x="264.25" y="243.33" width="7.70" height="7.01" fill="#f5f9fb"/>
<rect x="271.90" y="243.33" width="7.70" height="7.01" fill="#e9f3f6"/>
<rect x="294.85" y="243.33" width="7.70" height="7.01" fill="#f8fbfc"/>
<rect x="302.50" y="243.33" width="7.70" height="7.01" fill="#e2eff2"/>
<rect x="310.15" y="243.33" width="7.70" height="7.01" fill="#f5f9fb"/>
<rect x="317.80" y="243.33" width="7.70" height="7.01" fill="#e9f3f6"/>
<rect x="264.25" y="250.29" width="7.70" height="7.01" fill="#e2eff2"/>
<rect x="271.90" y="250.29" width="7.70" height="7.01" fill="#fbfdfd"/>
<rect x="294.85" y="250.29" width="7.70" height="7.01" fill="#daebef"/>
<rect x="302.50" y="250.29" width="7.70" height="7.01" fill="#f8fbfc"/>
<rect x="310.15" y="250.29" width="7.70" height="7.01" fill="#daebef"/>
<rect x="317.80" y="250.29" width="7.70" height="7.01" fill="#fbfdfd"/>
<rect x="218.35" y="257.25" width="7.70" height="7.01" fill="#f8fbfc"/>
<rect x="226.00" y="257.25" width="7.70" height="7.01" fill="#f8fbfc"/>
<rect x="233.65" y="257.25" width="7.70" height="7.01" fill="#f8fbfc"/>
<rect x="241.30" y="257.25" width="7.70" height="7.01" fill="#f8fbfc"/>
<rect x="248.95" y="257.25" width="7.70" height="7.01" fill="#f8fbfc"/>
<rect x="256.60" y="257.25" width="7.70" height="7.01" fill="#f8fbfc"/>
<rect x="264.25" y="257.25" width="7.70" height="7.01" fill="#fcfdfe"/>
<rect x="325.45" y="257.25" width="7.70" height="7.01" fill="#f3f9fa"/>
<rect x="333.10" y="257.25" width="7.70" height="7.01" fill="#f3f9fa"/>
<rect x="218.35" y="264.21" width="7.70" height="7.01" fill="#e9f3f6"/>
<rect x="226.00" y="264.21" width="7.70" height="7.01" fill="#e9f3f6"/>
<rect x="233.65" y="264.21" width="7.70" height="7.01" fill="#c4dfe6"/>
<rect x="241.30" y="264.21" width="7.70" height="7.01" fill="#daebef"/>
<rect x="248.95" y="264.21" width="7.70" height="7.01" fill="#88bbc9"/>
<rect x="256.60" y="264.21" width="7.70" height="7.01" fill="#c4dfe6"/>
<rect x="264.25" y="264.21" width="7.70" height="7.01" fill="#fbfdfd"/>
<rect x="271.90" y="264.21" width="7.70" height="7.01" fill="#fbfdfd"/>
<rect x="294.85" y="264.21" width="7.70" height="7.01" fill="#f9fcfc"/>
<rect x="302.50" y="264.21" width="7.70" height="7.01" fill="#f9fcfc"/>
<rect x="325.45" y="264.21" width="7.70" height="7.01" fill="#e9f3f6"/>
<rect x="333.10" y="264.21" width="7.70" height="7.01" fill="#e9f3f6"/>
<rect x="218.35" y="271.17" width="7.70" height="7.01" fill="#fbfdfd"/>
<rect x="226.00" y="271.17" width="7.70" height="7.01" fill="#e9f3f6"/>
<rect x="233.65" y="271.17" width="7.70" height="7.01" fill="#e9f3f6"/>
<rect x="241.30" y="271.17" width="7.70" height="7.01" fill="#d3e7ec"/>
<rect x="248.95" y="271.17" width="7.70" height="7.01" fill="#fbfdfd"/>
<rect x="256.60" y="271.17" width="7.70" height="7.01" fill="#e2eff2"/>
<rect x="325.45" y="271.17" width="7.70" height="7.01" fill="#fbfdfd"/>
<rect x="333.10" y="271.17" width="7.70" height="7.01" fill="#daebef"/>
<rect x="218.35" y="278.13" width="7.70" height="7.01" fill="#fbfdfd"/>
<rect x="226.00" y="278.13" width="7.70" height="7.01" fill="#f5f9fb"/>
<rect x="233.65" y="278.13" width="7.70" height="7.01" fill="#cbe3e9"/>
<rect x="241.30" y="278.13" width="7.70" height="7.01" fill="#f0f7f9"/>
<rect x="248.95" y="278.13" width="7.70" height="7.01" fill="#d3e7ec"/>
<rect x="256.60" y="278.13" width="7.70" height="7.01" fill="#f0f7f9"/>
<rect x="325.45" y="278.13" width="7.70" height="7.01" fill="#f5f9fb"/>
<rect x="333.10" y="278.13" width="7.70" height="7.01" fill="#fbfdfd"/>
<rect x="218.35" y="285.09" width="7.70" height="7.01" fill="#f8fbfc"/>
<rect x="226.00" y="285.09" width="7.70" height="7.01" fill="#69a8b9"/>
<rect x="233.65" y="285.09" width="7.70" height="7.01" fill="#f8fbfc"/>
<rect x="241.30" y="285.09" width="7.70" height="7.01" fill="#9ac5d1"/>
<rect x="248.95" y="285.09" width="7.70" height="7.01" fill="#f8fbfc"/>
<rect x="256.60" y="285.09" width="7.70" height="7.01" fill="#9ac5d1"/>
<rect x="271.90" y="285.09" width="7.70" height="7.01" fill="#e2eff2"/>
<rect x="287.20" y="285.09" width="7.70" height="7.01" fill="#f8fbfc"/>
<rect x="294.85" y="285.09" width="7.70" height="7.01" fill="#f8fbfc"/>
<rect x="302.50" y="285.09" width="7.70" height="7.01" fill="#daebef"/>
<rect x="310.15" y="285.09" width="7.70" height="7.01" fill="#f8fbfc"/>
<rect x="317.80" y="285.09" width="7.70" height="7.01" fill="#e9f3f6"/>
<rect x="325.45" y="285.09" width="7.70" height="7.01" fill="#f0f7f9"/>
<rect x="333.10" y="285.09" width="7.70" height="7.01" fill="#85b9c7"/>
<rect x="218.35" y="292.05" width="7.70" height="7.01" fill="#44889f"/>
<rect x="226.00" y="292.05" width="7.70" height="7.01" fill="#f9fcfc"/>
<rect x="233.65" y="292.05" width="7.70" height="7.01" fill="#f9fcfc"/>
<rect x="241.30" y="292.05" width="7.70" height="7.01" fill="#f9fcfc"/>
<rect x="248.95" y="292.05" width="7.70" height="7.01" fill="#afd2dc"/>
<rect x="256.60" y="292.05" width="7.70" height="7.01" fill="#f8fbfc"/>
<rect x="217.50" y="187.05" width="123.80" height="112.45" fill="none" stroke="#7a7a7a" stroke-width="0.6"/>
<line class="tk" x1="215.90" x2="217.50" y1="191.13" y2="191.13"/>
<text class="a" text-anchor="end" transform="translate(214.20 193.25) rotate(0.03)">SLL_wood</text>
<line class="tk" x1="215.90" x2="217.50" y1="198.09" y2="198.09"/>
<text class="a" text-anchor="end" transform="translate(214.20 200.21) rotate(0.03)">SLL_leaf</text>
<line class="tk" x1="215.90" x2="217.50" y1="205.05" y2="205.05"/>
<text class="a" text-anchor="end" transform="translate(214.20 207.17) rotate(0.03)">HA_wood</text>
<line class="tk" x1="215.90" x2="217.50" y1="212.01" y2="212.01"/>
<text class="a" text-anchor="end" transform="translate(214.20 214.13) rotate(0.03)">HA_leaf</text>
<line class="tk" x1="215.90" x2="217.50" y1="218.97" y2="218.97"/>
<text class="a" text-anchor="end" transform="translate(214.20 221.09) rotate(0.03)">EA_wood</text>
<line class="tk" x1="215.90" x2="217.50" y1="225.93" y2="225.93"/>
<text class="a" text-anchor="end" transform="translate(214.20 228.05) rotate(0.03)">EA_leaf</text>
<line class="tk" x1="215.90" x2="217.50" y1="232.89" y2="232.89"/>
<text class="a" text-anchor="end" transform="translate(214.20 235.01) rotate(0.03)">EB_wood</text>
<line class="tk" x1="215.90" x2="217.50" y1="239.85" y2="239.85"/>
<text class="a" text-anchor="end" transform="translate(214.20 241.97) rotate(0.03)">EB_leaf</text>
<line class="tk" x1="215.90" x2="217.50" y1="246.81" y2="246.81"/>
<text class="a" text-anchor="end" transform="translate(214.20 248.93) rotate(0.03)">TO_wood</text>
<line class="tk" x1="215.90" x2="217.50" y1="253.77" y2="253.77"/>
<text class="a" text-anchor="end" transform="translate(214.20 255.89) rotate(0.03)">TO_leaf</text>
<line class="tk" x1="215.90" x2="217.50" y1="260.73" y2="260.73"/>
<text class="a" text-anchor="end" transform="translate(214.20 262.85) rotate(0.03)">EHH_wood</text>
<line class="tk" x1="215.90" x2="217.50" y1="267.69" y2="267.69"/>
<text class="a" text-anchor="end" transform="translate(214.20 269.81) rotate(0.03)">EHH_leaf</text>
<line class="tk" x1="215.90" x2="217.50" y1="274.65" y2="274.65"/>
<text class="a" text-anchor="end" transform="translate(214.20 276.77) rotate(0.03)">HO_wood</text>
<line class="tk" x1="215.90" x2="217.50" y1="281.61" y2="281.61"/>
<text class="a" text-anchor="end" transform="translate(214.20 283.73) rotate(0.03)">HO_leaf</text>
<line class="tk" x1="215.90" x2="217.50" y1="288.57" y2="288.57"/>
<text class="a" text-anchor="end" transform="translate(214.20 290.69) rotate(0.03)">IM_wood</text>
<line class="tk" x1="215.90" x2="217.50" y1="295.53" y2="295.53"/>
<text class="a" text-anchor="end" transform="translate(214.20 297.65) rotate(0.03)">IM_leaf</text>
<line class="tk" x1="222.17" x2="222.17" y1="299.50" y2="301.10"/>
<text class="a" text-anchor="end" transform="translate(225.00 302.30) rotate(-90)">IM_leaf</text>
<line class="tk" x1="229.82" x2="229.82" y1="299.50" y2="301.10"/>
<text class="a" text-anchor="end" transform="translate(232.65 302.30) rotate(-90)">IM_wood</text>
<line class="tk" x1="237.47" x2="237.47" y1="299.50" y2="301.10"/>
<text class="a" text-anchor="end" transform="translate(240.30 302.30) rotate(-90)">HO_leaf</text>
<line class="tk" x1="245.12" x2="245.12" y1="299.50" y2="301.10"/>
<text class="a" text-anchor="end" transform="translate(247.95 302.30) rotate(-90)">HO_wood</text>
<line class="tk" x1="252.78" x2="252.78" y1="299.50" y2="301.10"/>
<text class="a" text-anchor="end" transform="translate(255.60 302.30) rotate(-90)">EHH_leaf</text>
<line class="tk" x1="260.43" x2="260.43" y1="299.50" y2="301.10"/>
<text class="a" text-anchor="end" transform="translate(263.25 302.30) rotate(-90)">EHH_wood</text>
<line class="tk" x1="268.07" x2="268.07" y1="299.50" y2="301.10"/>
<text class="a" text-anchor="end" transform="translate(270.90 302.30) rotate(-90)">TO_leaf</text>
<line class="tk" x1="275.73" x2="275.73" y1="299.50" y2="301.10"/>
<text class="a" text-anchor="end" transform="translate(278.55 302.30) rotate(-90)">TO_wood</text>
<line class="tk" x1="283.38" x2="283.38" y1="299.50" y2="301.10"/>
<text class="a" text-anchor="end" transform="translate(286.20 302.30) rotate(-90)">EB_leaf</text>
<line class="tk" x1="291.02" x2="291.02" y1="299.50" y2="301.10"/>
<text class="a" text-anchor="end" transform="translate(293.85 302.30) rotate(-90)">EB_wood</text>
<line class="tk" x1="298.68" x2="298.68" y1="299.50" y2="301.10"/>
<text class="a" text-anchor="end" transform="translate(301.50 302.30) rotate(-90)">EA_leaf</text>
<line class="tk" x1="306.32" x2="306.32" y1="299.50" y2="301.10"/>
<text class="a" text-anchor="end" transform="translate(309.15 302.30) rotate(-90)">EA_wood</text>
<line class="tk" x1="313.98" x2="313.98" y1="299.50" y2="301.10"/>
<text class="a" text-anchor="end" transform="translate(316.80 302.30) rotate(-90)">HA_leaf</text>
<line class="tk" x1="321.62" x2="321.62" y1="299.50" y2="301.10"/>
<text class="a" text-anchor="end" transform="translate(324.45 302.30) rotate(-90)">HA_wood</text>
<line class="tk" x1="329.27" x2="329.27" y1="299.50" y2="301.10"/>
<text class="a" text-anchor="end" transform="translate(332.10 302.30) rotate(-90)">SLL_leaf</text>
<line class="tk" x1="336.93" x2="336.93" y1="299.50" y2="301.10"/>
<text class="a" text-anchor="end" transform="translate(339.75 302.30) rotate(-90)">SLL_wood</text>
<text class="l" text-anchor="middle" transform="translate(181.70 243.28) rotate(-90)">Prediction</text>
<text class="l" text-anchor="middle" x="279.40" y="339.00">Reference</text>
</g>
<g>
<text class="t" x="46.5" y="353.1">Confusion MatrixNB</text>
<rect x="55.00" y="358.65" width="7.70" height="7.01" fill="#afd2dc"/>
<rect x="62.65" y="358.65" width="7.70" height="7.01" fill="#e9f3f6"/>
<rect x="70.30" y="358.65" width="7.70" height="7.01" fill="#9ac5d1"/>
<rect x="77.95" y="358.65" width="7.70" height="7.01" fill="#fbfdfd"/>
<rect x="85.60" y="358.65" width="7.70" height="7.01" fill="#daebef"/>
<rect x="154.45" y="358.65" width="7.70" height="7.01" fill="#f5f9fb"/>
<rect x="162.10" y="358.65" width="7.70" height="7.01" fill="#77b1c1"/>
<rect x="55.00" y="365.61" width="7.70" height="7.01" fill="#fcfdfe"/>
<rect x="62.65" y="365.61" width="7.70" height="7.01" fill="#afd2dc"/>
<rect x="77.95" y="365.61" width="7.70" height="7.01" fill="#f8fbfc"/>
<rect x="85.60" y="365.61" width="7.70" height="7.01" fill="#f8fbfc"/>
<rect x="154.45" y="365.61" width="7.70" height="7.01" fill="#44889f"/>
<rect x="162.10" y="365.61" width="7.70" height="7.01" fill="#fcfdfe"/>
<rect x="93.25" y="372.57" width="7.70" height="7.01" fill="#fbfdfd"/>
<rect x="100.90" y="372.57" width="7.70" height="7.01" fill="#d3e7ec"/>
<rect x="108.55" y="372.57" width="7.70" height="7.01" fill="#f8fbfc"/>
<rect x="123.85" y="372.57" width="7.70" height="7.01" fill="#f9fcfc"/>
<rect x="131.50" y="372.57" width="7.70" height="7.01" fill="#a9ced9"/>
<rect x="139.15" y="372.57" width="7.70" height="7.01" fill="#e9f3f6"/>
<rect x="146.80" y="372.57" width="7.70" height="7.01" fill="#77b1c1"/>
<rect x="55.00" y="379.53" width="7.70" height="7.01" fill="#fbfdfd"/>
<rect x="62.65" y="379.53" width="7.70" height="7.01" fill="#fbfdfd"/>
<rect x="70.30" y="379.53" width="7.70" height="7.01" fill="#fbfdfd"/>
<rect x="93.25" y="379.53" width="7.70" height="7.01" fill="#d3e7ec"/>
<rect x="100.90" y="379.53" width="7.70" height="7.01" fill="#d3e7ec"/>
<rect x="123.85" y="379.53" width="7.70" height="7.01" fill="#e2eff2"/>
<rect x="131.50" y="379.53" width="7.70" height="7.01" fill="#e9f3f6"/>
<rect x="139.15" y="379.53" width="7.70" height="7.01" fill="#77b1c1"/>
<rect x="146.80" y="379.53" width="7.70" height="7.01" fill="#f0f7f9"/>
<rect x="162.10" y="379.53" width="7.70" height="7.01" fill="#fbfdfd"/>
<rect x="55.00" y="386.49" width="7.70" height="7.01" fill="#fbfdfd"/>
<rect x="62.65" y="386.49" width="7.70" height="7.01" fill="#fbfdfd"/>
<rect x="70.30" y="386.49" width="7.70" height="7.01" fill="#fbfdfd"/>
<rect x="93.25" y="386.49" width="7.70" height="7.01" fill="#f5f9fb"/>
<rect x="100.90" y="386.49" width="7.70" height="7.01" fill="#cbe3e9"/>
<rect x="123.85" y="386.49" width="7.70" height="7.01" fill="#f8fbfc"/>
<rect x="131.50" y="386.49" width="7.70" height="7.01" fill="#9ac5d1"/>
<rect x="139.15" y="386.49" width="7.70" height="7.01" fill="#f5f9fb"/>
<rect x="146.80" y="386.49" width="7.70" height="7.01" fill="#daebef"/>
<rect x="162.10" y="386.49" width="7.70" height="7.01" fill="#fbfdfd"/>
<rect x="93.25" y="393.45" width="7.70" height="7.01" fill="#5f9fb2"/>
<rect x="100.90" y="393.45" width="7.70" height="7.01" fill="#fbfdfd"/>
<rect x="123.85" y="393.45" width="7.70" height="7.01" fill="#5f9fb2"/>
<rect x="131.50" y="393.45" width="7.70" height="7.01" fill="#fbfdfd"/>
<rect x="139.15" y="393.45" width="7.70" height="7.01" fill="#daebef"/>
<rect x="146.80" y="393.45" width="7.70" height="7.01" fill="#f8fbfc"/>
<rect x="93.25" y="400.41" width="7.70" height="7.01" fill="#fcfdfe"/>
<rect x="100.90" y="400.41" width="7.70" height="7.01" fill="#daebef"/>
<rect x="108.55" y="400.41" width="7.70" height="7.01" fill="#cbe3e9"/>
<rect x="116.20" y="400.41" width="7.70" height="7.01" fill="#276f88"/>
<rect x="123.85" y="400.41" width="7.70" height="7.01" fill="#fbfdfd"/>
<rect x="131.50" y="400.41" width="7.70" height="7.01" fill="#e9f3f6"/>
<rect x="139.15" y="400.41" width="7.70" height="7.01" fill="#f5f9fb"/>
<rect x="146.80" y="400.41" width="7.70" height="7.01" fill="#e9f3f6"/>
<rect x="100.90" y="407.37" width="7.70" height="7.01" fill="#f8fbfc"/>
<rect x="108.55" y="407.37" width="7.70" height="7.01" fill="#3c829a"/>
<rect x="116.20" y="407.37" width="7.70" height="7.01" fill="#f8fbfc"/>
<rect x="70.30" y="414.33" width="7.70" height="7.01" fill="#fbfdfd"/>
<rect x="93.25" y="414.33" width="7.70" height="7.01" fill="#f0f7f9"/>
<rect x="100.90" y="414.33" width="7.70" height="7.01" fill="#d3e7ec"/>
<rect x="108.55" y="414.33" width="7.70" height="7.01" fill="#fbfdfd"/>
<rect x="116.20" y="414.33" width="7.70" height="7.01" fill="#fbfdfd"/>
<rect x="123.85" y="414.33" width="7.70" height="7.01" fill="#f0f7f9"/>
<rect x="131.50" y="414.33" width="7.70" height="7.01" fill="#cbe3e9"/>
<rect x="139.15" y="414.33" width="7.70" height="7.01" fill="#e9f3f6"/>
<rect x="146.80" y="414.33" width="7.70" height="7.01" fill="#daebef"/>
<rect x="162.10" y="414.33" width="7.70" height="7.01" fill="#fbfdfd"/>
<rect x="93.25" y="421.29" width="7.70" height="7.01" fill="#afd2dc"/>
<rect x="100.90" y="421.29" width="7.70" height="7.01" fill="#f5f9fb"/>
<rect x="123.85" y="421.29" width="7.70" height="7.01" fill="#afd2dc"/>
<rect x="131.50" y="421.29" width="7.70" height="7.01" fill="#f5f9fb"/>
<rect x="139.15" y="421.29" width="7.70" height="7.01" fill="#c4dfe6"/>
<rect x="146.80" y="421.29" width="7.70" height="7.01" fill="#f8fbfc"/>
<rect x="47.35" y="428.25" width="7.70" height="7.01" fill="#f5f9fb"/>
<rect x="55.00" y="428.25" width="7.70" height="7.01" fill="#d3e7ec"/>
<rect x="62.65" y="428.25" width="7.70" height="7.01" fill="#f5f9fb"/>
<rect x="70.30" y="428.25" width="7.70" height="7.01" fill="#f5f9fb"/>
<rect x="77.95" y="428.25" width="7.70" height="7.01" fill="#e2eff2"/>
<rect x="85.60" y="428.25" width="7.70" height="7.01" fill="#afd2dc"/>
<rect x="162.10" y="428.25" width="7.70" height="7.01" fill="#f8fbfc"/>
<rect x="47.35" y="435.21" width="7.70" height="7.01" fill="#f8fbfc"/>
<rect x="55.00" y="435.21" width="7.70" height="7.01" fill="#f8fbfc"/>
<rect x="62.65" y="435.21" width="7.70" height="7.01" fill="#f8fbfc"/>
<rect x="70.30" y="435.21" width="7.70" height="7.01" fill="#f8fbfc"/>
<rect x="77.95" y="435.21" width="7.70" height="7.01" fill="#88bbc9"/>
<rect x="85.60" y="435.21" width="7.70" height="7.01" fill="#f0f7f9"/>
<rect x="154.45" y="435.21" width="7.70" height="7.01" fill="#fbfdfd"/>
<rect x="55.00" y="442.17" width="7.70" height="7.01" fill="#e9f3f6"/>
<rect x="62.65" y="442.17" width="7.70" height="7.01" fill="#daebef"/>
<rect x="70.30" y="442.17" width="7.70" height="7.01" fill="#bad9e1"/>
<rect x="77.95" y="442.17" width="7.70" height="7.01" fill="#f5f9fb"/>
<rect x="85.60" y="442.17" width="7.70" height="7.01" fill="#e9f3f6"/>
<rect x="154.45" y="442.17" width="7.70" height="7.01" fill="#edf5f7"/>
<rect x="162.10" y="442.17" width="7.70" height="7.01" fill="#cbe3e9"/>
<rect x="55.00" y="449.13" width="7.70" height="7.01" fill="#f5f9fb"/>
<rect x="62.65" y="449.13" width="7.70" height="7.01" fill="#88bbc9"/>
<rect x="70.30" y="449.13" width="7.70" height="7.01" fill="#e9f3f6"/>
<rect x="77.95" y="449.13" width="7.70" height="7.01" fill="#f0f7f9"/>
<rect x="85.60" y="449.13" width="7.70" height="7.01" fill="#e9f3f6"/>
<rect x="154.45" y="449.13" width="7.70" height="7.01" fill="#daebef"/>
<rect x="162.10" y="449.13" width="7.70" height="7.01" fill="#edf5f7"/>
<rect x="47.35" y="456.09" width="7.70" height="7.01" fill="#fbfdfd"/>
<rect x="55.00" y="456.09" width="7.70" height="7.01" fill="#77b1c1"/>
<rect x="62.65" y="456.09" width="7.70" height="7.01" fill="#f8fbfc"/>
<rect x="70.30" y="456.09" width="7.70" height="7.01" fill="#e2eff2"/>
<rect x="77.95" y="456.09" width="7.70" height="7.01" fill="#f5f9fb"/>
<rect x="85.60" y="456.09" width="7.70" height="7.01" fill="#cbe3e9"/>
<rect x="154.45" y="456.09" width="7.70" height="7.01" fill="#fbfdfd"/>
<rect x="162.10" y="456.09" width="7.70" height="7.01" fill="#e2eff2"/>
<rect x="47.35" y="463.05" width="7.70" height="7.01" fill="#2d7891"/>
<rect x="55.00" y="463.05" width="7.70" height="7.01" fill="#f8fbfc"/>
<rect x="62.65" y="463.05" width="7.70" height="7.01" fill="#f8fbfc"/>
<rect x="77.95" y="463.05" width="7.70" height="7.01" fill="#77b1c1"/>
<rect x="85.60" y="463.05" width="7.70" height="7.01" fill="#f8fbfc"/>
<rect x="93.25" y="463.05" width="7.70" height="7.01" fill="#fbfdfd"/>
<rect x="46.50" y="358.05" width="123.80" height="112.45" fill="none" stroke="#7a7a7a" stroke-width="0.6"/>
<line class="tk" x1="44.90" x2="46.50" y1="362.13" y2="362.13"/>
<text class="a" text-anchor="end" transform="translate(43.20 364.25) rotate(0.03)">SLL_wood</text>
<line class="tk" x1="44.90" x2="46.50" y1="369.09" y2="369.09"/>
<text class="a" text-anchor="end" transform="translate(43.20 371.21) rotate(0.03)">SLL_leaf</text>
<line class="tk" x1="44.90" x2="46.50" y1="376.05" y2="376.05"/>
<text class="a" text-anchor="end" transform="translate(43.20 378.17) rotate(0.03)">HA_wood</text>
<line class="tk" x1="44.90" x2="46.50" y1="383.01" y2="383.01"/>
<text class="a" text-anchor="end" transform="translate(43.20 385.13) rotate(0.03)">HA_leaf</text>
<line class="tk" x1="44.90" x2="46.50" y1="389.97" y2="389.97"/>
<text class="a" text-anchor="end" transform="translate(43.20 392.09) rotate(0.03)">EA_wood</text>
<line class="tk" x1="44.90" x2="46.50" y1="396.93" y2="396.93"/>
<text class="a" text-anchor="end" transform="translate(43.20 399.05) rotate(0.03)">EA_leaf</text>
<line class="tk" x1="44.90" x2="46.50" y1="403.89" y2="403.89"/>
<text class="a" text-anchor="end" transform="translate(43.20 406.01) rotate(0.03)">EB_wood</text>
<line class="tk" x1="44.90" x2="46.50" y1="410.85" y2="410.85"/>
<text class="a" text-anchor="end" transform="translate(43.20 412.97) rotate(0.03)">EB_leaf</text>
<line class="tk" x1="44.90" x2="46.50" y1="417.81" y2="417.81"/>
<text class="a" text-anchor="end" transform="translate(43.20 419.93) rotate(0.03)">TO_wood</text>
<line class="tk" x1="44.90" x2="46.50" y1="424.77" y2="424.77"/>
<text class="a" text-anchor="end" transform="translate(43.20 426.89) rotate(0.03)">TO_leaf</text>
<line class="tk" x1="44.90" x2="46.50" y1="431.73" y2="431.73"/>
<text class="a" text-anchor="end" transform="translate(43.20 433.85) rotate(0.03)">EHH_wood</text>
<line class="tk" x1="44.90" x2="46.50" y1="438.69" y2="438.69"/>
<text class="a" text-anchor="end" transform="translate(43.20 440.81) rotate(0.03)">EHH_leaf</text>
<line class="tk" x1="44.90" x2="46.50" y1="445.65" y2="445.65"/>
<text class="a" text-anchor="end" transform="translate(43.20 447.77) rotate(0.03)">HO_wood</text>
<line class="tk" x1="44.90" x2="46.50" y1="452.61" y2="452.61"/>
<text class="a" text-anchor="end" transform="translate(43.20 454.73) rotate(0.03)">HO_leaf</text>
<line class="tk" x1="44.90" x2="46.50" y1="459.57" y2="459.57"/>
<text class="a" text-anchor="end" transform="translate(43.20 461.69) rotate(0.03)">IM_wood</text>
<line class="tk" x1="44.90" x2="46.50" y1="466.53" y2="466.53"/>
<text class="a" text-anchor="end" transform="translate(43.20 468.65) rotate(0.03)">IM_leaf</text>
<line class="tk" x1="51.18" x2="51.18" y1="470.50" y2="472.10"/>
<text class="a" text-anchor="end" transform="translate(54.00 473.30) rotate(-90)">IM_leaf</text>
<line class="tk" x1="58.83" x2="58.83" y1="470.50" y2="472.10"/>
<text class="a" text-anchor="end" transform="translate(61.65 473.30) rotate(-90)">IM_wood</text>
<line class="tk" x1="66.47" x2="66.47" y1="470.50" y2="472.10"/>
<text class="a" text-anchor="end" transform="translate(69.30 473.30) rotate(-90)">HO_leaf</text>
<line class="tk" x1="74.12" x2="74.12" y1="470.50" y2="472.10"/>
<text class="a" text-anchor="end" transform="translate(76.95 473.30) rotate(-90)">HO_wood</text>
<line class="tk" x1="81.78" x2="81.78" y1="470.50" y2="472.10"/>
<text class="a" text-anchor="end" transform="translate(84.60 473.30) rotate(-90)">EHH_leaf</text>
<line class="tk" x1="89.43" x2="89.43" y1="470.50" y2="472.10"/>
<text class="a" text-anchor="end" transform="translate(92.25 473.30) rotate(-90)">EHH_wood</text>
<line class="tk" x1="97.08" x2="97.08" y1="470.50" y2="472.10"/>
<text class="a" text-anchor="end" transform="translate(99.90 473.30) rotate(-90)">TO_leaf</text>
<line class="tk" x1="104.72" x2="104.72" y1="470.50" y2="472.10"/>
<text class="a" text-anchor="end" transform="translate(107.55 473.30) rotate(-90)">TO_wood</text>
<line class="tk" x1="112.38" x2="112.38" y1="470.50" y2="472.10"/>
<text class="a" text-anchor="end" transform="translate(115.20 473.30) rotate(-90)">EB_leaf</text>
<line class="tk" x1="120.03" x2="120.03" y1="470.50" y2="472.10"/>
<text class="a" text-anchor="end" transform="translate(122.85 473.30) rotate(-90)">EB_wood</text>
<line class="tk" x1="127.68" x2="127.68" y1="470.50" y2="472.10"/>
<text class="a" text-anchor="end" transform="translate(130.50 473.30) rotate(-90)">EA_leaf</text>
<line class="tk" x1="135.33" x2="135.33" y1="470.50" y2="472.10"/>
<text class="a" text-anchor="end" transform="translate(138.15 473.30) rotate(-90)">EA_wood</text>
<line class="tk" x1="142.97" x2="142.97" y1="470.50" y2="472.10"/>
<text class="a" text-anchor="end" transform="translate(145.80 473.30) rotate(-90)">HA_leaf</text>
<line class="tk" x1="150.62" x2="150.62" y1="470.50" y2="472.10"/>
<text class="a" text-anchor="end" transform="translate(153.45 473.30) rotate(-90)">HA_wood</text>
<line class="tk" x1="158.28" x2="158.28" y1="470.50" y2="472.10"/>
<text class="a" text-anchor="end" transform="translate(161.10 473.30) rotate(-90)">SLL_leaf</text>
<line class="tk" x1="165.93" x2="165.93" y1="470.50" y2="472.10"/>
<text class="a" text-anchor="end" transform="translate(168.75 473.30) rotate(-90)">SLL_wood</text>
<text class="l" text-anchor="middle" transform="translate(10.70 414.28) rotate(-90)">Prediction</text>
<text class="l" text-anchor="middle" x="108.40" y="510.00">Reference</text>
</g>
<g>
<text class="t" x="217.5" y="353.1">Confusion MatrixEN</text>
<rect x="233.65" y="358.65" width="7.70" height="7.01" fill="#edf5f7"/>
<rect x="241.30" y="358.65" width="7.70" height="7.01" fill="#afd2dc"/>
<rect x="325.45" y="358.65" width="7.70" height="7.01" fill="#fbfdfd"/>
<rect x="333.10" y="358.65" width="7.70" height="7.01" fill="#69a8b9"/>
<rect x="233.65" y="365.61" width="7.70" height="7.01" fill="#daebef"/>
<rect x="241.30" y="365.61" width="7.70" height="7.01" fill="#fbfdfd"/>
<rect x="325.45" y="365.61" width="7.70" height="7.01" fill="#44889f"/>
<rect x="264.25" y="372.57" width="7.70" height="7.01" fill="#fbfdfd"/>
<rect x="271.90" y="372.57" width="7.70" height="7.01" fill="#e9f3f6"/>
<rect x="279.55" y="372.57" width="7.70" height="7.01" fill="#fbfdfd"/>
<rect x="294.85" y="372.57" width="7.70" height="7.01" fill="#fbfdfd"/>
<rect x="302.50" y="372.57" width="7.70" height="7.01" fill="#d3e7ec"/>
<rect x="310.15" y="372.57" width="7.70" height="7.01" fill="#f8fbfc"/>
<rect x="317.80" y="372.57" width="7.70" height="7.01" fill="#69a8b9"/>
<rect x="264.25" y="379.53" width="7.70" height="7.01" fill="#daebef"/>
<rect x="271.90" y="379.53" width="7.70" height="7.01" fill="#f8fbfc"/>
<rect x="294.85" y="379.53" width="7.70" height="7.01" fill="#e9f3f6"/>
<rect x="302.50" y="379.53" width="7.70" height="7.01" fill="#f8fbfc"/>
<rect x="310.15" y="379.53" width="7.70" height="7.01" fill="#3c829a"/>
<rect x="317.80" y="379.53" width="7.70" height="7.01" fill="#f5f9fb"/>
<rect x="333.10" y="379.53" width="7.70" height="7.01" fill="#f5f9fb"/>
<rect x="264.25" y="386.49" width="7.70" height="7.01" fill="#f8fbfc"/>
<rect x="271.90" y="386.49" width="7.70" height="7.01" fill="#9ac5d1"/>
<rect x="279.55" y="386.49" width="7.70" height="7.01" fill="#f0f7f9"/>
<rect x="294.85" y="386.49" width="7.70" height="7.01" fill="#f8fbfc"/>
<rect x="302.50" y="386.49" width="7.70" height="7.01" fill="#77b1c1"/>
<rect x="310.15" y="386.49" width="7.70" height="7.01" fill="#f8fbfc"/>
<rect x="317.80" y="386.49" width="7.70" height="7.01" fill="#cbe3e9"/>
<rect x="264.25" y="393.45" width="7.70" height="7.01" fill="#88bbc9"/>
<rect x="271.90" y="393.45" width="7.70" height="7.01" fill="#f5f9fb"/>
<rect x="294.85" y="393.45" width="7.70" height="7.01" fill="#5f9fb2"/>
<rect x="302.50" y="393.45" width="7.70" height="7.01" fill="#fbfdfd"/>
<rect x="310.15" y="393.45" width="7.70" height="7.01" fill="#f0f7f9"/>
<rect x="271.90" y="400.41" width="7.70" height="7.01" fill="#fcfdfe"/>
<rect x="279.55" y="400.41" width="7.70" height="7.01" fill="#e9f3f6"/>
<rect x="287.20" y="400.41" width="7.70" height="7.01" fill="#2d7891"/>
<rect x="279.55" y="407.37" width="7.70" height="7.01" fill="#3c829a"/>
<rect x="287.20" y="407.37" width="7.70" height="7.01" fill="#f5f9fb"/>
<rect x="264.25" y="414.33" width="7.70" height="7.01" fill="#e2eff2"/>
<rect x="271.90" y="414.33" width="7.70" height="7.01" fill="#5596ab"/>
<rect x="279.55" y="414.33" width="7.70" height="7.01" fill="#f8fbfc"/>
<rect x="294.85" y="414.33" width="7.70" height="7.01" fill="#f0f7f9"/>
<rect x="302.50" y="414.33" width="7.70" height="7.01" fill="#88bbc9"/>
<rect x="310.15" y="414.33" width="7.70" height="7.01" fill="#fbfdfd"/>
<rect x="317.80" y="414.33" width="7.70" height="7.01" fill="#d3e7ec"/>
<rect x="264.25" y="421.29" width="7.70" height="7.01" fill="#69a8b9"/>
<rect x="271.90" y="421.29" width="7.70" height="7.01" fill="#f0f7f9"/>
<rect x="294.85" y="421.29" width="7.70" height="7.01" fill="#bad9e1"/>
<rect x="302.50" y="421.29" width="7.70" height="7.01" fill="#f5f9fb"/>
<rect x="310.15" y="421.29" width="7.70" height="7.01" fill="#f0f7f9"/>
<rect x="317.80" y="421.29" width="7.70" height="7.01" fill="#f8fbfc"/>
<rect x="218.35" y="428.25" width="7.70" height="7.01" fill="#f0f7f9"/>
<rect x="226.00" y="428.25" width="7.70" height="7.01" fill="#9ac5d1"/>
<rect x="248.95" y="428.25" width="7.70" height="7.01" fill="#daebef"/>
<rect x="256.60" y="428.25" width="7.70" height="7.01" fill="#5596ab"/>
<rect x="218.35" y="435.21" width="7.70" height="7.01" fill="#e2eff2"/>
<rect x="226.00" y="435.21" width="7.70" height="7.01" fill="#fbfdfd"/>
<rect x="248.95" y="435.21" width="7.70" height="7.01" fill="#44889f"/>
<rect x="256.60" y="435.21" width="7.70" height="7.01" fill="#e9f3f6"/>
<rect x="233.65" y="442.17" width="7.70" height="7.01" fill="#cbe3e9"/>
<rect x="241.30" y="442.17" width="7.70" height="7.01" fill="#4c8fa5"/>
<rect x="325.45" y="442.17" width="7.70" height="7.01" fill="#f0f7f9"/>
<rect x="333.10" y="442.17" width="7.70" height="7.01" fill="#91c0cd"/>
<rect x="233.65" y="449.13" width="7.70" height="7.01" fill="#5596ab"/>
<rect x="241.30" y="449.13" width="7.70" height="7.01" fill="#e2eff2"/>
<rect x="325.45" y="449.13" width="7.70" height="7.01" fill="#c4dfe6"/>
<rect x="333.10" y="449.13" width="7.70" height="7.01" fill="#e9f3f6"/>
<rect x="218.35" y="456.09" width="7.70" height="7.01" fill="#fbfdfd"/>
<rect x="226.00" y="456.09" width="7.70" height="7.01" fill="#4c8fa5"/>
<rect x="248.95" y="456.09" width="7.70" height="7.01" fill="#fbfdfd"/>
<rect x="256.60" y="456.09" width="7.70" height="7.01" fill="#afd2dc"/>
<rect x="218.35" y="463.05" width="7.70" height="7.01" fill="#3c829a"/>
<rect x="226.00" y="463.05" width="7.70" height="7.01" fill="#fcfdfe"/>
<rect x="233.65" y="463.05" width="7.70" height="7.01" fill="#fcfdfe"/>
<rect x="241.30" y="463.05" width="7.70" height="7.01" fill="#fcfdfe"/>
<rect x="248.95" y="463.05" width="7.70" height="7.01" fill="#daebef"/>
<rect x="256.60" y="463.05" width="7.70" height="7.01" fill="#fcfdfe"/>
<rect x="264.25" y="463.05" width="7.70" height="7.01" fill="#fcfdfe"/>
<rect x="271.90" y="463.05" width="7.70" height="7.01" fill="#fcfdfe"/>
<rect x="217.50" y="358.05" width="123.80" height="112.45" fill="none" stroke="#7a7a7a" stroke-width="0.6"/>
<line class="tk" x1="215.90" x2="217.50" y1="362.13" y2="362.13"/>
<text class="a" text-anchor="end" transform="translate(214.20 364.25) rotate(0.03)">SLL_wood</text>
<line class="tk" x1="215.90" x2="217.50" y1="369.09" y2="369.09"/>
<text class="a" text-anchor="end" transform="translate(214.20 371.21) rotate(0.03)">SLL_leaf</text>
<line class="tk" x1="215.90" x2="217.50" y1="376.05" y2="376.05"/>
<text class="a" text-anchor="end" transform="translate(214.20 378.17) rotate(0.03)">HA_wood</text>
<line class="tk" x1="215.90" x2="217.50" y1="383.01" y2="383.01"/>
<text class="a" text-anchor="end" transform="translate(214.20 385.13) rotate(0.03)">HA_leaf</text>
<line class="tk" x1="215.90" x2="217.50" y1="389.97" y2="389.97"/>
<text class="a" text-anchor="end" transform="translate(214.20 392.09) rotate(0.03)">EA_wood</text>
<line class="tk" x1="215.90" x2="217.50" y1="396.93" y2="396.93"/>
<text class="a" text-anchor="end" transform="translate(214.20 399.05) rotate(0.03)">EA_leaf</text>
<line class="tk" x1="215.90" x2="217.50" y1="403.89" y2="403.89"/>
<text class="a" text-anchor="end" transform="translate(214.20 406.01) rotate(0.03)">EB_wood</text>
<line class="tk" x1="215.90" x2="217.50" y1="410.85" y2="410.85"/>
<text class="a" text-anchor="end" transform="translate(214.20 412.97) rotate(0.03)">EB_leaf</text>
<line class="tk" x1="215.90" x2="217.50" y1="417.81" y2="417.81"/>
<text class="a" text-anchor="end" transform="translate(214.20 419.93) rotate(0.03)">TO_wood</text>
<line class="tk" x1="215.90" x2="217.50" y1="424.77" y2="424.77"/>
<text class="a" text-anchor="end" transform="translate(214.20 426.89) rotate(0.03)">TO_leaf</text>
<line class="tk" x1="215.90" x2="217.50" y1="431.73" y2="431.73"/>
<text class="a" text-anchor="end" transform="translate(214.20 433.85) rotate(0.03)">EHH_wood</text>
<line class="tk" x1="215.90" x2="217.50" y1="438.69" y2="438.69"/>
<text class="a" text-anchor="end" transform="translate(214.20 440.81) rotate(0.03)">EHH_leaf</text>
<line class="tk" x1="215.90" x2="217.50" y1="445.65" y2="445.65"/>
<text class="a" text-anchor="end" transform="translate(214.20 447.77) rotate(0.03)">HO_wood</text>
<line class="tk" x1="215.90" x2="217.50" y1="452.61" y2="452.61"/>
<text class="a" text-anchor="end" transform="translate(214.20 454.73) rotate(0.03)">HO_leaf</text>
<line class="tk" x1="215.90" x2="217.50" y1="459.57" y2="459.57"/>
<text class="a" text-anchor="end" transform="translate(214.20 461.69) rotate(0.03)">IM_wood</text>
<line class="tk" x1="215.90" x2="217.50" y1="466.53" y2="466.53"/>
<text class="a" text-anchor="end" transform="translate(214.20 468.65) rotate(0.03)">IM_leaf</text>
<line class="tk" x1="222.17" x2="222.17" y1="470.50" y2="472.10"/>
<text class="a" text-anchor="end" transform="translate(225.00 473.30) rotate(-90)">IM_leaf</text>
<line class="tk" x1="229.82" x2="229.82" y1="470.50" y2="472.10"/>
<text class="a" text-anchor="end" transform="translate(232.65 473.30) rotate(-90)">IM_wood</text>
<line class="tk" x1="237.47" x2="237.47" y1="470.50" y2="472.10"/>
<text class="a" text-anchor="end" transform="translate(240.30 473.30) rotate(-90)">HO_leaf</text>
<line class="tk" x1="245.12" x2="245.12" y1="470.50" y2="472.10"/>
<text class="a" text-anchor="end" transform="translate(247.95 473.30) rotate(-90)">HO_wood</text>
<line class="tk" x1="252.78" x2="252.78" y1="470.50" y2="472.10"/>
<text class="a" text-anchor="end" transform="translate(255.60 473.30) rotate(-90)">EHH_leaf</text>
<line class="tk" x1="260.43" x2="260.43" y1="470.50" y2="472.10"/>
<text class="a" text-anchor="end" transform="translate(263.25 473.30) rotate(-90)">EHH_wood</text>
<line class="tk" x1="268.07" x2="268.07" y1="470.50" y2="472.10"/>
<text class="a" text-anchor="end" transform="translate(270.90 473.30) rotate(-90)">TO_leaf</text>
<line class="tk" x1="275.73" x2="275.73" y1="470.50" y2="472.10"/>
<text class="a" text-anchor="end" transform="translate(278.55 473.30) rotate(-90)">TO_wood</text>
<line class="tk" x1="283.38" x2="283.38" y1="470.50" y2="472.10"/>
<text class="a" text-anchor="end" transform="translate(286.20 473.30) rotate(-90)">EB_leaf</text>
<line class="tk" x1="291.02" x2="291.02" y1="470.50" y2="472.10"/>
<text class="a" text-anchor="end" transform="translate(293.85 473.30) rotate(-90)">EB_wood</text>
<line class="tk" x1="298.68" x2="298.68" y1="470.50" y2="472.10"/>
<text class="a" text-anchor="end" transform="translate(301.50 473.30) rotate(-90)">EA_leaf</text>
<line class="tk" x1="306.32" x2="306.32" y1="470.50" y2="472.10"/>
<text class="a" text-anchor="end" transform="translate(309.15 473.30) rotate(-90)">EA_wood</text>
<line class="tk" x1="313.98" x2="313.98" y1="470.50" y2="472.10"/>
<text class="a" text-anchor="end" transform="translate(316.80 473.30) rotate(-90)">HA_leaf</text>
<line class="tk" x1="321.62" x2="321.62" y1="470.50" y2="472.10"/>
<text class="a" text-anchor="end" transform="translate(324.45 473.30) rotate(-90)">HA_wood</text>
<line class="tk" x1="329.27" x2="329.27" y1="470.50" y2="472.10"/>
<text class="a" text-anchor="end" transform="translate(332.10 473.30) rotate(-90)">SLL_leaf</text>
<line class="tk" x1="336.93" x2="336.93" y1="470.50" y2="472.10"/>
<text class="a" text-anchor="end" transform="translate(339.75 473.30) rotate(-90)">SLL_wood</text>
<text class="l" text-anchor="middle" transform="translate(181.70 414.28) rotate(-90)">Prediction</text>
<text class="l" text-anchor="middle" x="279.40" y="510.00">Reference</text>
</g>
<defs><linearGradient id="lg" x1="0" x2="1" y1="0" y2="0">
<stop offset="0.000" stop-color="#ffffff"/>
<stop offset="0.050" stop-color="#f4f9fa"/>
<stop offset="0.100" stop-color="#e8f3f5"/>
<stop offset="0.150" stop-color="#ddecf0"/>
<stop offset="0.200" stop-color="#d1e6eb"/>
<stop offset="0.250" stop-color="#c5dfe6"/>
<stop offset="0.300" stop-color="#b4d5de"/>
<stop offset="0.350" stop-color="#a3cbd6"/>
<stop offset="0.400" stop-color="#92c1ce"/>
<stop offset="0.450" stop-color="#81b6c5"/>
<stop offset="0.500" stop-color="#6facbd"/>
<stop offset="0.550" stop-color="#62a2b4"/>
<stop offset="0.600" stop-color="#5697ab"/>
<stop offset="0.650" stop-color="#498da3"/>
<stop offset="0.700" stop-color="#3c829a"/>
<stop offset="0.750" stop-color="#2d7891"/>
<stop offset="0.800" stop-color="#276f88"/>
<stop offset="0.850" stop-color="#21677f"/>
<stop offset="0.900" stop-color="#1a5e76"/>
<stop offset="0.950" stop-color="#13566d"/>
<stop offset="1.000" stop-color="#0c4e64"/>
</linearGradient></defs>
<rect x="73.4" y="520.4" width="231.4" height="14.0" fill="url(#lg)" stroke="#8c8c8c" stroke-width="0.5"/>
<text class="k" text-anchor="middle" x="74.50" y="543.70">0</text>
<line x1="132.00" x2="132.00" y1="520.40" y2="523.40" stroke="#fff" stroke-width="0.4"/>
<line x1="132.00" x2="132.00" y1="531.40" y2="534.40" stroke="#fff" stroke-width="0.4"/>
<text class="k" text-anchor="middle" x="132.00" y="543.70">5000</text>
<line x1="189.50" x2="189.50" y1="520.40" y2="523.40" stroke="#fff" stroke-width="0.4"/>
<line x1="189.50" x2="189.50" y1="531.40" y2="534.40" stroke="#fff" stroke-width="0.4"/>
<text class="k" text-anchor="middle" x="189.50" y="543.70">10000</text>
<line x1="247.00" x2="247.00" y1="520.40" y2="523.40" stroke="#fff" stroke-width="0.4"/>
<line x1="247.00" x2="247.00" y1="531.40" y2="534.40" stroke="#fff" stroke-width="0.4"/>
<text class="k" text-anchor="middle" x="247.00" y="543.70">15000</text>
<text class="k" text-anchor="middle" x="304.50" y="543.70">20000</text>
<text x="56.0" y="534.8" style="font-size:7.5px;fill:#111;stroke:#111;stroke-width:0.05px">Freq</text>
</svg></body></html>
